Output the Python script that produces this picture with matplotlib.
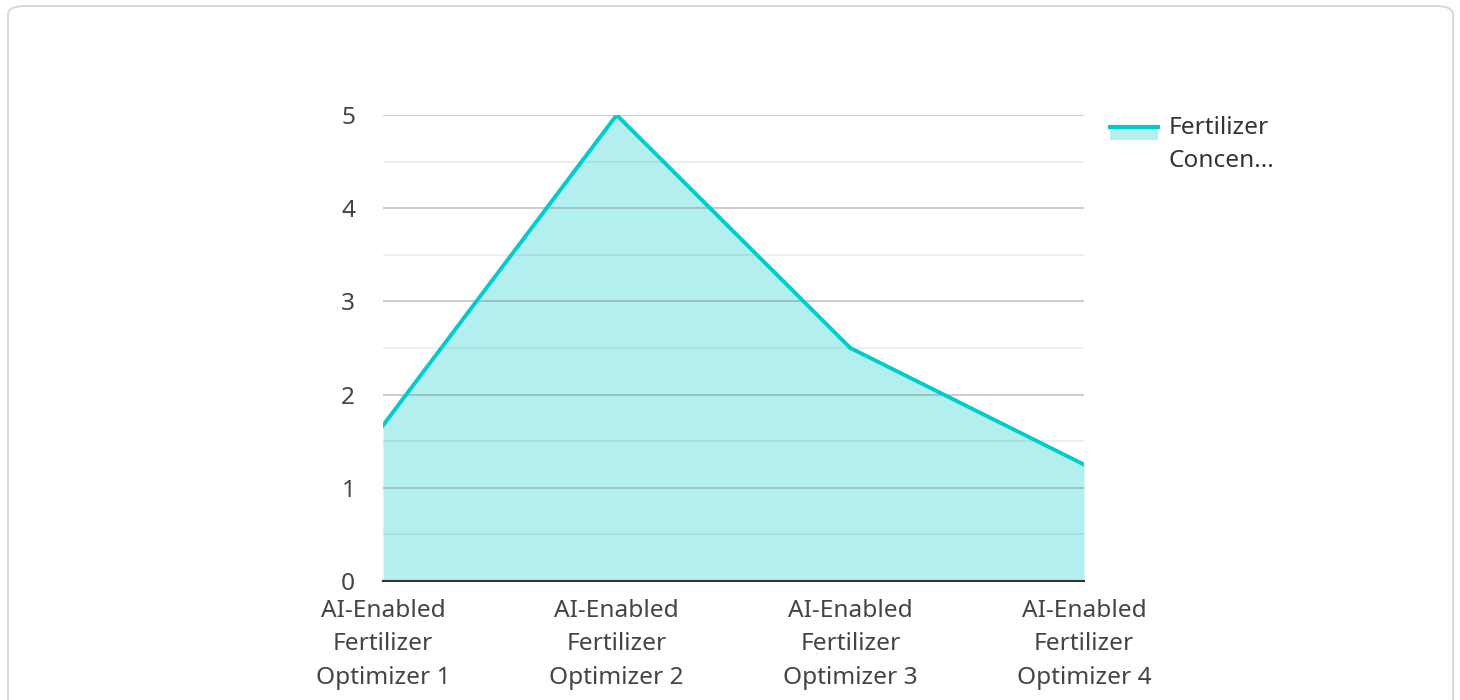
import matplotlib.pyplot as plt
from matplotlib.patches import FancyBboxPatch, Rectangle
from matplotlib.lines import Line2D
import numpy as np

#data
categories = ["AI-Enabled\nFertilizer\nOptimizer 1", "AI-Enabled\nFertilizer\nOptimizer 2",
              "AI-Enabled\nFertilizer\nOptimizer 3", "AI-Enabled\nFertilizer\nOptimizer 4"]
concentration = [1.67, 5.0, 2.5, 1.25]
series_name = "Fertilizer\nConcen..."
y_ticks = [0, 1, 2, 3, 4, 5]

line_col = "#00CCCC"
fill_col = "#B2EFEE"
text_col = "#444444"
fs = 17.6

plt.rcParams['font.family'] = ['Noto Sans', 'DejaVu Sans']

fig = plt.figure(figsize=(14.6, 7), dpi=100)
ax = fig.add_axes([383/1460, 119/700, 701/1460, 466/700])

#outer rounded card
card = FancyBboxPatch((8/1460, -20/700), 1445/1460, 714/700,
                      boxstyle="round,pad=0,rounding_size=0.012",
                      transform=fig.transFigure, facecolor="none",
                      edgecolor="#d6d6d6", linewidth=1.3)
fig.add_artist(card)

x = np.arange(len(categories))
ax.fill_between(x, concentration, 0, color=fill_col, linewidth=0, zorder=2)
ax.plot(x, concentration, color=line_col, linewidth=2.8, zorder=3, solid_joinstyle='miter')

ax.set_xlim(0, len(categories) - 1)
ax.set_ylim(0, 5)
ax.set_yticks(y_ticks)
ax.set_yticks(np.arange(0.5, 5, 1), minor=True)
ax.set_xticks(x)
ax.set_xticklabels(categories)

ax.grid(axis='y', which='major', color="#7a7a7a", alpha=0.45, linewidth=1.2, zorder=2.5)
ax.grid(axis='y', which='minor', color="#7a7a7a", alpha=0.15, linewidth=1.2, zorder=2.5)
ax.set_axisbelow(False)

for s in ['top', 'right', 'left']:
    ax.spines[s].set_visible(False)
ax.spines['bottom'].set_color("#333333")
ax.spines['bottom'].set_linewidth(1.5)
ax.spines['bottom'].set_zorder(4)

ax.tick_params(axis='both', which='both', length=0, labelsize=fs, labelcolor=text_col)
ax.tick_params(axis='y', pad=20)
ax.tick_params(axis='x', pad=13)
for lbl in ax.get_xticklabels():
    lbl.set_linespacing(1.52)

#legend drawn by hand
fig.add_artist(Rectangle((1110/1460, (700-140)/700), 48/1460, 13/700,
                         transform=fig.transFigure, facecolor=fill_col, edgecolor='none'))
fig.add_artist(Line2D([1110/1460, 1158/1460], [(700-127)/700]*2,
                      transform=fig.transFigure, color=line_col, linewidth=3))
fig.text(1169/1460, (700-116)/700, series_name, fontsize=fs, color="#333333",
         va='top', ha='left', linespacing=1.52)

fig.savefig("out.png", dpi=100)
